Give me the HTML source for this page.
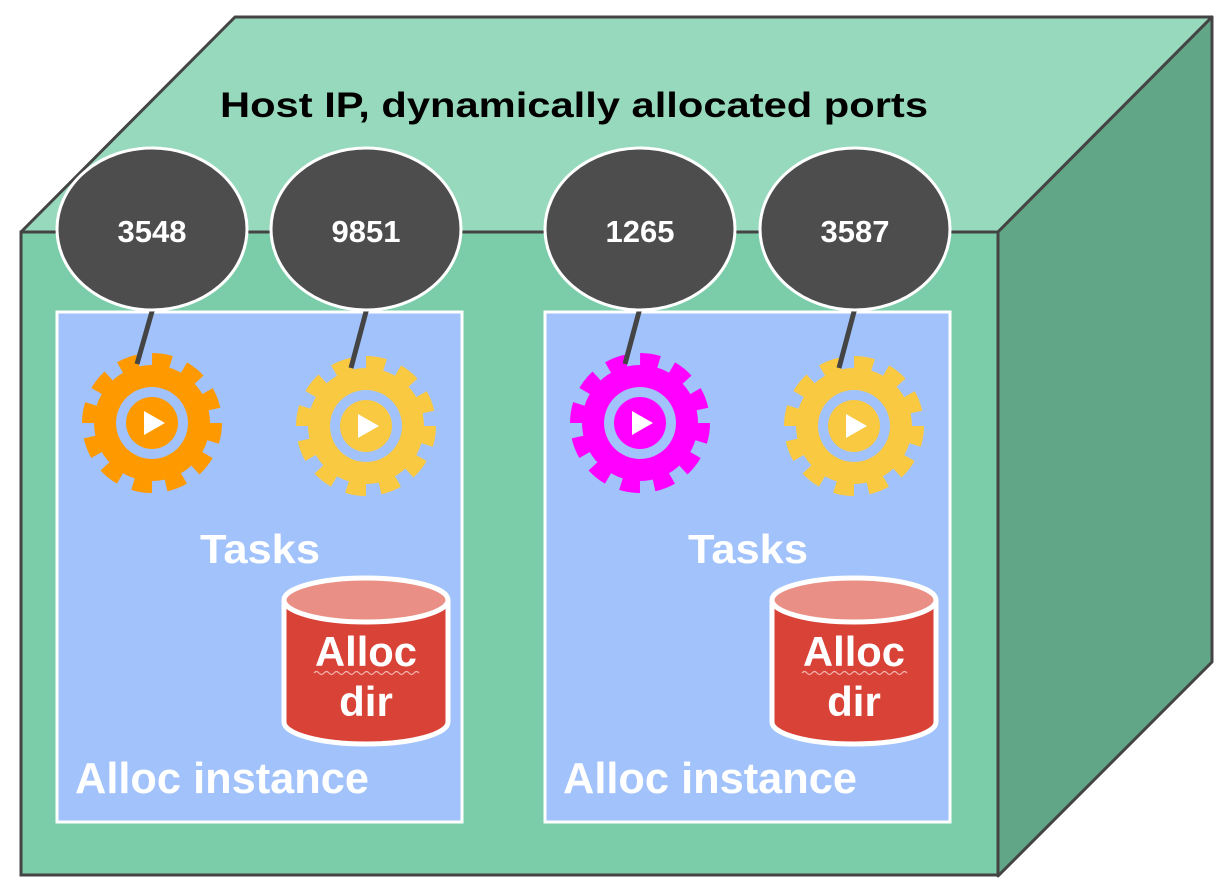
<!DOCTYPE html>
<html><head><meta charset="utf-8"><style>
html,body{margin:0;padding:0;background:#fff;}
svg{display:block;}
text{font-family:"Liberation Sans",Arial,sans-serif;font-weight:bold;}
</style></head><body>
<svg width="1226" height="882" viewBox="0 0 1226 882">
<polygon points="21,232 235,17 1212,17 998,232" fill="#97d9bc" stroke="#444" stroke-width="3" stroke-linejoin="round"/>
<polygon points="998,232 1212,17 1212,662 998,876" fill="#62a688" stroke="#444" stroke-width="3" stroke-linejoin="round"/>
<rect x="21" y="232" width="977" height="643" fill="#7bcdaa" stroke="#444" stroke-width="3"/>
<text x="574" y="117" font-size="35" text-anchor="middle" fill="#000" textLength="708" lengthAdjust="spacingAndGlyphs">Host IP, dynamically allocated ports</text>

<g id="alloc">
<rect x="57" y="312" width="405" height="510" fill="#a1c2fb" stroke="#fff" stroke-width="3"/>
<text x="260" y="563" font-size="41" text-anchor="middle" fill="#fff" textLength="120" lengthAdjust="spacingAndGlyphs">Tasks</text>
<text x="75" y="793" font-size="44" fill="#fff" textLength="294" lengthAdjust="spacingAndGlyphs">Alloc instance</text>
<path d="M284,600 L284,722 A82,22 0 0 0 448,722 L448,600" fill="#d94236" stroke="#fff" stroke-width="5"/>
<ellipse cx="366" cy="600" rx="82" ry="22" fill="#e98f85" stroke="#fff" stroke-width="5"/>
<text x="366" y="666" font-size="42" text-anchor="middle" fill="#fff" textLength="102" lengthAdjust="spacingAndGlyphs">Alloc</text>
<path d="M314,673 q2.5,-3 5,0 t5,0 t5,0 t5,0 t5,0 t5,0 t5,0 t5,0 t5,0 t5,0 t5,0 t5,0 t5,0 t5,0 t5,0 t5,0 t5,0 t5,0 t5,0 t5,0 t5,0" fill="none" stroke="#f3b5b0" stroke-width="1.2"/>
<text x="366" y="716" font-size="42" text-anchor="middle" fill="#fff">dir</text>
</g>
<use href="#alloc" x="488"/>

<g transform="translate(152,423)">
<circle r="63" fill="none" stroke="#ff9900" stroke-width="14" stroke-dasharray="19 13.98"/>
<circle r="58" fill="#ff9900"/>
<circle r="36" fill="#a1c2fb"/>
<circle r="26" fill="#ff9900"/>
<polygon points="-8,-12 -8,12 13,0" fill="#fff"/>
</g>
<g transform="translate(366,426)">
<circle r="63" fill="none" stroke="#f9c942" stroke-width="14" stroke-dasharray="19 13.98"/>
<circle r="58" fill="#f9c942"/>
<circle r="36" fill="#a1c2fb"/>
<circle r="26" fill="#f9c942"/>
<polygon points="-8,-12 -8,12 13,0" fill="#fff"/>
</g>
<g transform="translate(640,423)">
<circle r="63" fill="none" stroke="#ff00ff" stroke-width="14" stroke-dasharray="19 13.98"/>
<circle r="58" fill="#ff00ff"/>
<circle r="36" fill="#a1c2fb"/>
<circle r="26" fill="#ff00ff"/>
<polygon points="-8,-12 -8,12 13,0" fill="#fff"/>
</g>
<g transform="translate(854,426)">
<circle r="63" fill="none" stroke="#f9c942" stroke-width="14" stroke-dasharray="19 13.98"/>
<circle r="58" fill="#f9c942"/>
<circle r="36" fill="#a1c2fb"/>
<circle r="26" fill="#f9c942"/>
<polygon points="-8,-12 -8,12 13,0" fill="#fff"/>
</g>

<g stroke="#444" stroke-width="5">
<line x1="153" y1="308" x2="137" y2="364"/>
<line x1="367" y1="308" x2="351" y2="368"/>
<line x1="640" y1="308" x2="625" y2="364"/>
<line x1="855" y1="308" x2="839" y2="368"/>
</g>

<g stroke="#fff" stroke-width="3" fill="#4d4d4d">
<ellipse cx="152" cy="229" rx="95" ry="81"/>
<ellipse cx="366" cy="229" rx="95" ry="81"/>
<ellipse cx="640" cy="229" rx="95" ry="81"/>
<ellipse cx="855" cy="229" rx="95" ry="81"/>
</g>
<g fill="#fff" font-size="31" text-anchor="middle">
<text x="152" y="242">3548</text>
<text x="366" y="242">9851</text>
<text x="640" y="242">1265</text>
<text x="855" y="242">3587</text>
</g>
</svg>
</body></html>
